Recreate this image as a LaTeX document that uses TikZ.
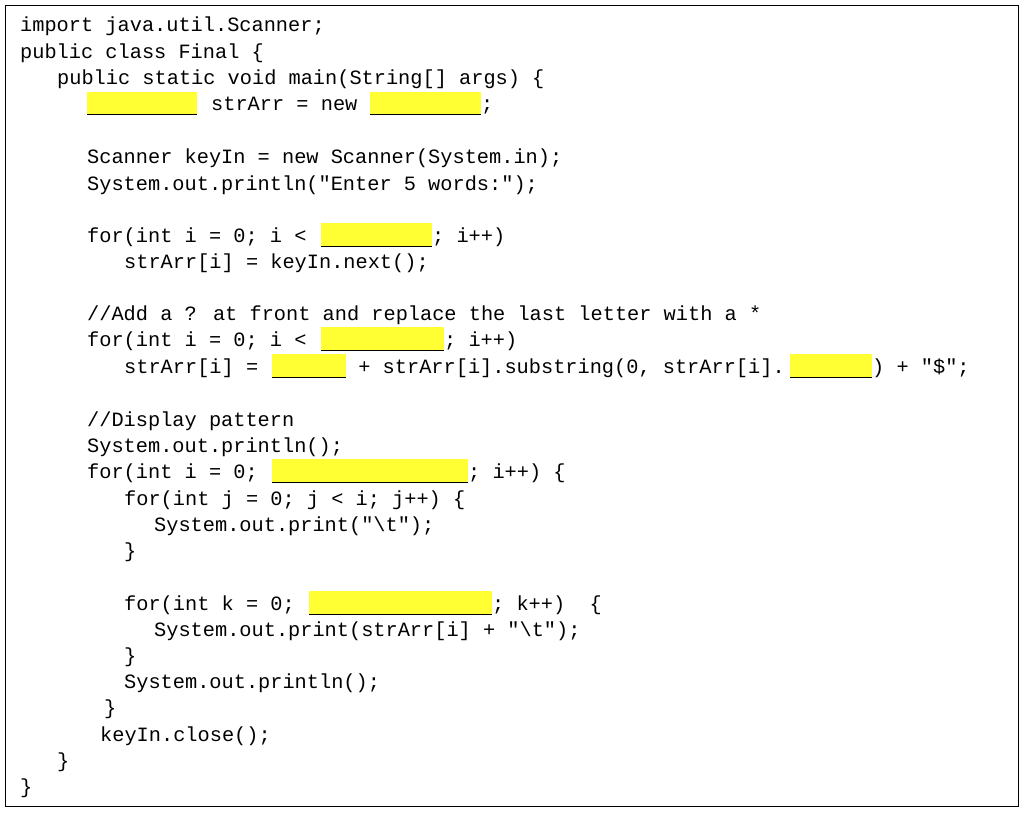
\documentclass[tikz,border=0pt]{standalone}
\usepackage{fontspec}
\newfontfamily\codefont{Liberation Mono}
\definecolor{hl}{RGB}{255,255,51}
\tikzset{
  code/.style={anchor=base west,inner sep=0pt,font=\codefont\fontsize{20.3}{24}\selectfont},
  blankbox/.style={fill=hl,draw=none}
}
\newcommand{\blankfill}[4]{% name, x1, x2, yc
  \fill[hl] (#2,#4-12) rectangle (#3,#4+11);
  \draw[line width=1pt] (#2,#4+11) -- coordinate (#1) (#3,#4+11);
}
\begin{document}
\begin{tikzpicture}[x=1pt,y=-1pt]
\useasboundingbox (0,0) rectangle (1024,813);
\draw[line width=0.8pt] (5,5) rectangle (1018,806);
\node[code] (l1) at (20,32) {import java.util.Scanner;};
\node[code] (l2) at (20,59) {public class Final \{};
\node[code] (l3) at (57,85) {public static void main(String[] args) \{};
\blankfill{b1}{87}{197}{104}
\node[code] (l4a) at (211,111) {strArr = new};
\blankfill{b2}{370}{481}{104}
\node[code] (l4b) at (481,111) {;};
\node[code] (l6) at (87,164) {Scanner keyIn = new Scanner(System.in);};
\node[code] (l7) at (87,190) {System.out.println("Enter 5 words:");};
\node[code] (l9a) at (87,242) {for(int i = 0; i <};
\blankfill{b3}{321}{432}{235}
\node[code] (l9b) at (432,242) {; i++)};
\node[code] (l10) at (124,268) {strArr[i] = keyIn.next();};
\node[code] (l12) at (87,320) {//Add a ? at front and replace the last letter with a *};
\node[code] (l13a) at (87,346) {for(int i = 0; i <};
\blankfill{b4}{321}{444}{339}
\node[code] (l13b) at (444,346) {; i++)};
\node[code] (l14a) at (124,373) {strArr[i] =};
\blankfill{b5}{272}{346}{366}
\node[code] (l14b) at (346,373) {\ + strArr[i].substring(0, strArr[i].};
\blankfill{b6}{790}{872}{366}
\node[code] (l14c) at (872,373) {) + "\$";};
\node[code] (l16) at (87,426) {//Display pattern};
\node[code] (l17) at (87,452) {System.out.println();};
\node[code] (l18a) at (87,478) {for(int i = 0;};
\blankfill{b7}{272}{468}{471}
\node[code] (l18b) at (468,478) {; i++) \{};
\node[code] (l19) at (124,505) {for(int j = 0; j < i; j++) \{};
\node[code] (l20) at (154,531) {System.out.print("\textbackslash t");};
\node[code] (l21) at (124,557) {\}};
\node[code] (l23a) at (124,610) {for(int k = 0;};
\blankfill{b8}{309}{492}{603}
\node[code] (l23b) at (492,610) {; k++)\ \ \{};
\node[code] (l24) at (154,636) {System.out.print(strArr[i] + "\textbackslash t");};
\node[code] (l25) at (124,662) {\}};
\node[code] (l26) at (124,688) {System.out.println();};
\node[code] (l27) at (104,714) {\}};
\node[code] (l28) at (100,741) {keyIn.close();};
\node[code] (l29) at (57,767) {\}};
\node[code] (l30) at (20,793) {\}};
\end{tikzpicture}
\end{document}
